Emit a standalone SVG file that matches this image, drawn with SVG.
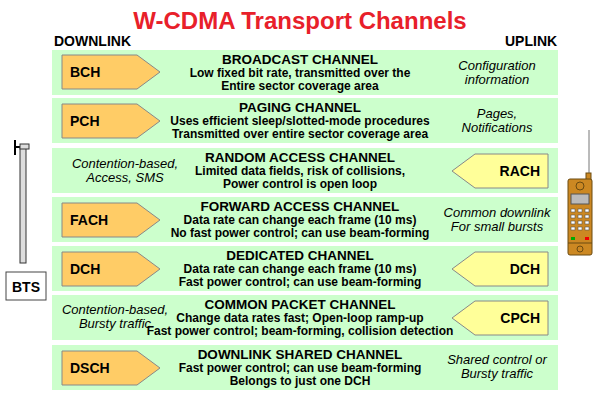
<svg xmlns="http://www.w3.org/2000/svg" width="600" height="400" viewBox="0 0 600 400">
<style>
.band{fill:#ccffcc}
.dl{fill:#ffcc66;stroke:#888;stroke-width:1}
.ul{fill:#ffff99;stroke:#888;stroke-width:1}
.lab{font-family:"Liberation Sans",Arial,sans-serif;font-weight:bold;font-size:14px;fill:#000}
.t{font-family:"Liberation Sans",Arial,sans-serif;font-weight:bold;font-size:12px;fill:#000;text-anchor:middle}
.h{font-family:"Liberation Sans",Arial,sans-serif;font-weight:bold;font-size:13.5px;fill:#000;text-anchor:middle}
.i{font-family:"Liberation Sans",Arial,sans-serif;font-style:italic;font-size:13px;fill:#000;text-anchor:middle}
</style>
<rect width="600" height="400" fill="#fff"/>
<text x="300" y="29" text-anchor="middle" font-family="Liberation Sans,Arial,sans-serif" font-weight="bold" font-size="24" fill="#e8202a">W-CDMA Transport Channels</text>
<text x="54" y="46" class="lab" font-size="12">DOWNLINK</text>
<text x="505" y="46" class="lab" font-size="12">UPLINK</text>
<g id="bts">
<rect x="20" y="148" width="6" height="115" fill="#ddd" stroke="#333"/>
<path d="M15 140v15M15 147h14" stroke="#000" stroke-width="2" fill="none"/>
<rect x="20" y="144" width="9" height="5" fill="#ddd" stroke="#333"/>
<rect x="6" y="272" width="40" height="28" fill="#fff" stroke="#444"/>
<text x="26" y="292" class="lab" text-anchor="middle">BTS</text>
</g>
<g id="phone">
<line x1="589" y1="130" x2="589" y2="175" stroke="#777" stroke-width="1"/>
<rect x="586" y="173" width="5" height="8" fill="#cc8822" stroke="#6b4a10"/>
<rect x="568" y="179" width="24" height="76" rx="2" fill="#cc8822" stroke="#6b4a10"/>
<circle cx="580" cy="186" r="4" fill="none" stroke="#6b4a10"/>
<rect x="571" y="194" width="18" height="10" fill="#bbb" stroke="#555"/>
<g fill="#fff" stroke="#555" stroke-width="0.6">
<rect x="571" y="209" width="4" height="3"/><rect x="578" y="209" width="4" height="3"/><rect x="585" y="209" width="4" height="3"/>
<rect x="571" y="215" width="4" height="3"/><rect x="578" y="215" width="4" height="3"/><rect x="585" y="215" width="4" height="3"/>
<rect x="571" y="221" width="4" height="3"/><rect x="578" y="221" width="4" height="3"/><rect x="585" y="221" width="4" height="3"/>
<rect x="571" y="227" width="4" height="3"/><rect x="578" y="227" width="4" height="3"/><rect x="585" y="227" width="4" height="3"/>
</g>
<rect x="571" y="237" width="4" height="3" fill="#0a0"/><rect x="585" y="237" width="4" height="3" fill="#e00"/>
<line x1="568" y1="243" x2="592" y2="243" stroke="#6b4a10"/>
<circle cx="580" cy="249" r="3" fill="none" stroke="#6b4a10"/>
</g>
<g id="row1"><rect class="band" x="52" y="50" width="506" height="45"/>
<path class="dl" d="M62 55h75l23 17-23 17h-75z"/><text x="70" y="77" class="lab">BCH</text>
<text x="300" y="64" class="h">BROADCAST CHANNEL</text><text x="300" y="77" class="t">Low fixed bit rate, transmitted over the</text><text x="300" y="90" class="t">Entire sector coverage area</text>
<text x="497" y="70" class="i">Configuration</text><text x="497" y="84" class="i">information</text></g>
<g id="row2"><rect class="band" x="52" y="98" width="506" height="45"/>
<path class="dl" d="M62 104h75l23 17-23 17h-75z"/><text x="70" y="126" class="lab">PCH</text>
<text x="300" y="112" class="h">PAGING CHANNEL</text><text x="300" y="125" class="t">Uses efficient sleep/slotted-mode procedures</text><text x="300" y="138" class="t">Transmitted over entire sector coverage area</text>
<text x="497" y="118" class="i">Pages,</text><text x="497" y="132" class="i">Notifications</text></g>
<g id="row3"><rect class="band" x="52" y="148" width="506" height="45"/>
<path class="ul" d="M548 154h-73l-23 17 23 17h73z"/><text x="540" y="176" class="lab" text-anchor="end">RACH</text>
<text x="300" y="162" class="h">RANDOM ACCESS CHANNEL</text><text x="300" y="175" class="t">Limited data fields, risk of collisions,</text><text x="300" y="188" class="t">Power control is open loop</text>
<text x="125" y="168" class="i">Contention-based,</text><text x="125" y="182" class="i">Access, SMS</text></g>
<g id="row4"><rect class="band" x="52" y="197" width="506" height="45"/>
<path class="dl" d="M62 203h75l23 17-23 17h-75z"/><text x="70" y="225" class="lab">FACH</text>
<text x="300" y="211" class="h">FORWARD ACCESS CHANNEL</text><text x="300" y="224" class="t">Data rate can change each frame (10 ms)</text><text x="300" y="237" class="t">No fast power control; can use beam-forming</text>
<text x="497" y="217" class="i">Common downlink</text><text x="497" y="231" class="i">For small bursts</text></g>
<g id="row5"><rect class="band" x="52" y="246" width="506" height="45"/>
<path class="dl" d="M62 252h75l23 17-23 17h-75z"/><text x="70" y="274" class="lab">DCH</text>
<path class="ul" d="M548 252h-73l-23 17 23 17h73z"/><text x="540" y="274" class="lab" text-anchor="end">DCH</text>
<text x="300" y="260" class="h">DEDICATED CHANNEL</text><text x="300" y="273" class="t">Data rate can change each frame (10 ms)</text><text x="300" y="286" class="t">Fast power control; can use beam-forming</text></g>
<g id="row6"><rect class="band" x="52" y="295" width="506" height="45"/>
<path class="ul" d="M548 301h-73l-23 17 23 17h73z"/><text x="540" y="323" class="lab" text-anchor="end">CPCH</text>
<text x="300" y="309" class="h">COMMON PACKET CHANNEL</text><text x="300" y="322" class="t">Change data rates fast; Open-loop ramp-up</text><text x="300" y="335" class="t">Fast power control; beam-forming, collision detection</text>
<text x="115" y="314" class="i">Contention-based,</text><text x="115" y="328" class="i">Bursty traffic</text></g>
<g id="row7"><rect class="band" x="52" y="345" width="506" height="45"/>
<path class="dl" d="M62 351h75l23 17-23 17h-75z"/><text x="70" y="373" class="lab">DSCH</text>
<text x="300" y="359" class="h">DOWNLINK SHARED CHANNEL</text><text x="300" y="372" class="t">Fast power control; can use beam-forming</text><text x="300" y="385" class="t">Belongs to just one DCH</text>
<text x="497" y="364" class="i">Shared control or</text><text x="497" y="378" class="i">Bursty traffic</text></g>
<g id="connectors"/>
</svg>
